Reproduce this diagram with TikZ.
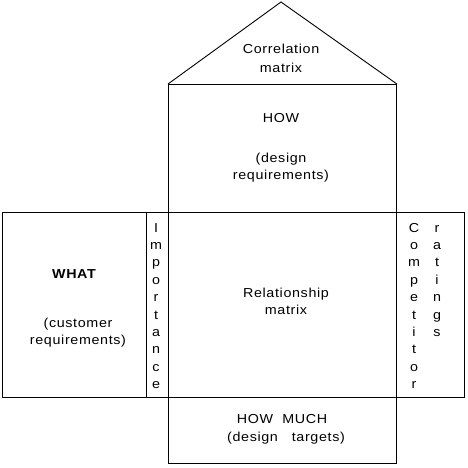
\documentclass[tikz,border=0pt]{standalone}
\usepackage{fontspec}
\newfontfamily\hv[FakeStretch=1.1,LetterSpace=5]{Liberation Sans}
\begin{document}
\begin{tikzpicture}[x=1pt,y=-1pt,
  box/.style={draw=black,line width=0.9pt,inner sep=0pt,anchor=north west},
  lbl/.style={font=\hv\fontsize{13}{16}\selectfont,inner sep=0pt,anchor=base}]
\useasboundingbox (0,0) rectangle (468,468);
% boxes
\node[box,minimum width=228,minimum height=128] (how) at (168,84) {};
\node[box,minimum width=228,minimum height=185] (rel) at (168,212) {};
\node[box,minimum width=228,minimum height=66] (much) at (168,397) {};
\node[box,minimum width=144,minimum height=185] (what) at (2,212) {};
\node[box,minimum width=22,minimum height=185] (imp) at (146,212) {};
\node[box,minimum width=68,minimum height=185] (comp) at (396,212) {};
% roof
\coordinate (apex) at (281,2);
\draw[line width=0.9pt] (how.north west) -- (apex) -- (how.north east);
% texts
\node[lbl] (t1) at (281,54) {Correlation};
\node[lbl] (t2) at (281,73) {matrix};
\node[lbl] (t3) at (281,123) {HOW};
\node[lbl] (t4) at (281,162) {(design};
\node[lbl] (t5) at (281,179) {requirements)};
\node[lbl,font=\hv\bfseries\fontsize{13}{16}\selectfont] (t6) at (74,278) {WHAT};
\node[lbl] (t7) at (78,327) {(customer};
\node[lbl] (t8) at (78,344) {requirements)};
\node[lbl] (t9) at (286,297) {Relationship};
\node[lbl] (t10) at (286,314) {matrix};
\node[lbl] (t11) at (282,423) {HOW\ \ MUCH};
\node[lbl] (t12) at (286,441) {(design\ \ \ targets)};
\foreach \c [count=\i from 0] in {I,m,p,o,r,t,a,n,c,e}
  \node[lbl] (imp\i) at (156,232+17.4*\i) {\c};
\foreach \c [count=\i from 0] in {C,o,m,p,e,t,i,t,o,r}
  \node[lbl] (com\i) at (414,232+17.4*\i) {\c};
\foreach \c [count=\i from 0] in {r,a,t,i,n,g,s}
  \node[lbl] (rat\i) at (437,232+17.4*\i) {\c};
\end{tikzpicture}
\end{document}
